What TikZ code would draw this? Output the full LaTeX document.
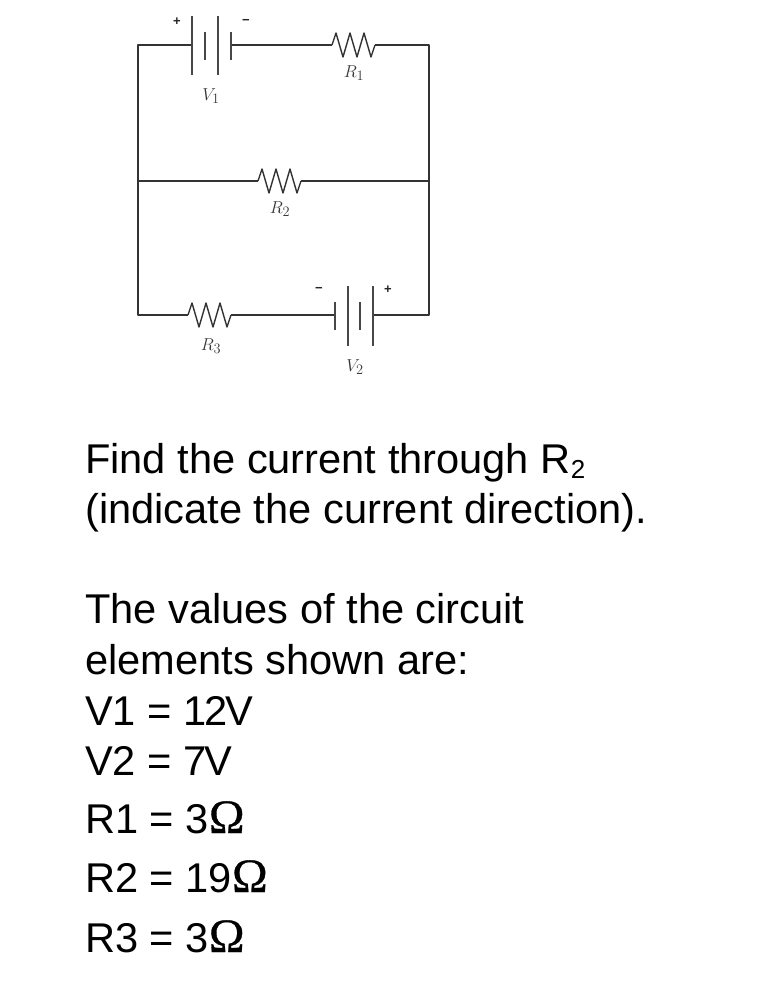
\documentclass[tikz,border=0pt]{standalone}
\usepackage{fontspec}
\setmainfont{Liberation Sans}
\newfontfamily\omegafont[FakeBold=0.6]{Liberation Serif}
\newcommand{\Ohm}{{\omegafont\fontsize{48}{50}\selectfont Ω}}
\tikzset{
  wire/.style={line width=1.2pt,color=black!80,line join=round},
  plate/.style={line width=1.8pt,color=black!72},
  body/.style={anchor=base west,inner sep=0pt,font=\fontsize{41.6}{50}\selectfont,text=black},
  lab/.style={inner sep=0pt,font=\fontsize{19}{21}\selectfont,text=black!78},
  sign/.style={inner sep=0pt,font=\fontsize{13}{14}\selectfont\bfseries,text=black!85},
}
\begin{document}
\begin{tikzpicture}[x=1pt,y=-1pt]
\useasboundingbox[fill=white] (0,0) rectangle (768,1000);
% junctions and terminals
\coordinate (TL) at (138,45);
\coordinate (TR) at (429,45);
\coordinate (ML) at (138,181);
\coordinate (MR) at (429,181);
\coordinate (BL) at (138,315);
\coordinate (BR) at (429,315);
\coordinate (V1a) at (192,45);
\coordinate (V1b) at (231,45);
\coordinate (R1a) at (332,45);
\coordinate (R1b) at (375,45);
\coordinate (R2a) at (258,181);
\coordinate (R2b) at (301,181);
\coordinate (R3a) at (188,315);
\coordinate (R3b) at (231,315);
\coordinate (V2a) at (335,315);
\coordinate (V2b) at (373,315);
% wires
\draw[wire] (V1a) -- (TL) -- (BL) -- (R3a);
\draw[wire] (V1b) -- (R1a);
\draw[wire] (R1b) -- (TR) -- (BR) -- (V2b);
\draw[wire] (R3b) -- (V2a);
\draw[wire] (ML) -- (R2a);
\draw[wire] (R2b) -- (MR);
% resistors
\foreach \p/\q in {R1a/R1b,R2a/R2b,R3a/R3b}{
  \draw[wire,line width=1.4pt] (\p) -- ++(4,-12) -- ++(7,24) -- ++(7,-24) -- ++(7,24) -- ++(7,-24) -- ++(7,24) -- (\q);
}
% batteries
\draw[plate] (192,16) -- (192,75);
\draw[plate] (205,32) -- (205,60);
\draw[plate] (218,16) -- (218,75);
\draw[plate] (231,32) -- (231,60);
\draw[plate] (335,302) -- (335,330);
\draw[plate] (348,286) -- (348,346);
\draw[plate] (360,302) -- (360,330);
\draw[plate] (373,286) -- (373,346);
% labels
\node[sign] (p1) at (177,21.5) {+};
\node[sign] (m1) at (246,21.5) {−};
\node[sign] (m2) at (319,290) {−};
\node[sign] (p2) at (388,290) {+};
\node[lab] (LV1) at (211,96) {$V_1$};
\node[lab] (LR1) at (354,73) {$R_1$};
\node[lab] (LR2) at (280,209) {$R_2$};
\node[lab] (LR3) at (211,346) {$R_3$};
\node[lab] (LV2) at (355,367) {$V_2$};
% text
\node[body] (t1) at (85,473) {Find the current through R{\fontsize{26}{26}\selectfont\raisebox{-5pt}{2}}};
\node[body] (t2) at (85,523) {(indicate the current direction).};
\node[body] (t3) at (85,623) {The values of the circuit};
\node[body] (t4) at (85,674) {elements shown are:};
\node[body] (t5) at (85,725) {V1 = 1\kern-2.5pt 2\kern-2pt V};
\node[body] (t6) at (85,775) {V2 = 7\kern-2.5pt V};
\node[body] (t7) at (85,833) {R1 = 3\Ohm};
\node[body] (t8) at (85,892) {R2 = 19\Ohm};
\node[body] (t9) at (85,952) {R3 = 3\Ohm};
\end{tikzpicture}
\end{document}
